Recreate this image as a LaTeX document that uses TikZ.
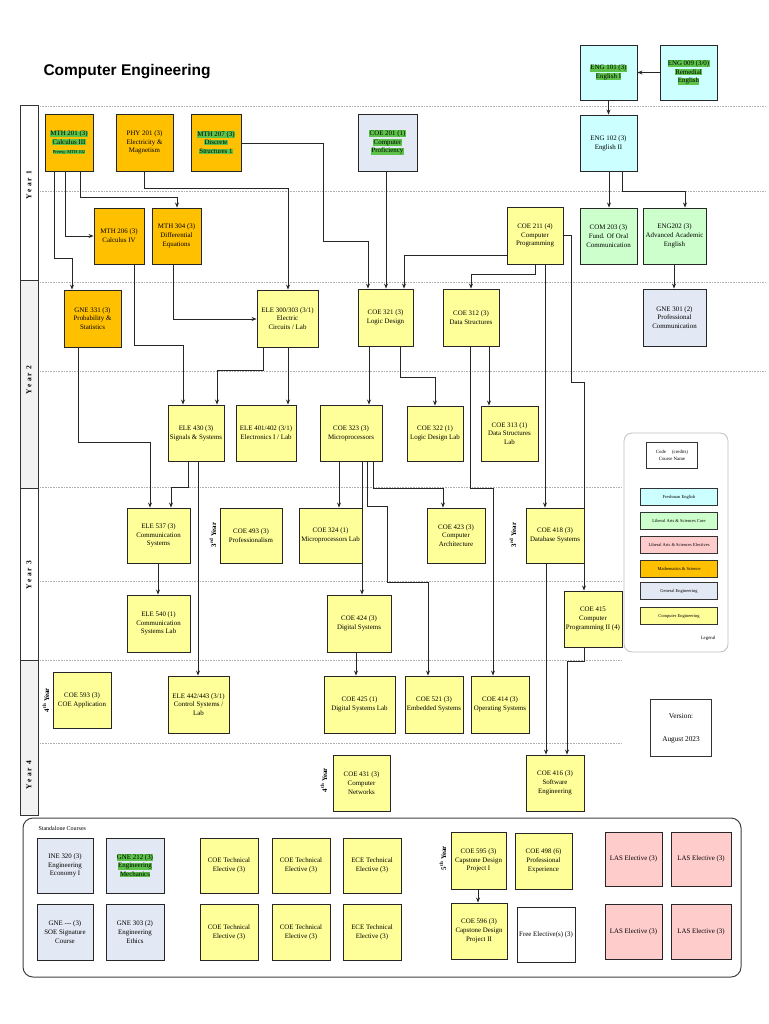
\documentclass[tikz,border=0pt]{standalone}
\usepackage{fontspec}
\setmainfont{Liberation Serif}
\newfontfamily\titlefont{Liberation Sans}
\usetikzlibrary{arrows.meta}
\definecolor{cor}{HTML}{FFC000}
\definecolor{cye}{HTML}{FFFF99}
\definecolor{ccy}{HTML}{CCFFFF}
\definecolor{cgr}{HTML}{CCFFCC}
\definecolor{cgb}{HTML}{E3E9F4}
\definecolor{cpk}{HTML}{FFCCCC}
\definecolor{hlg}{HTML}{5CC24A}
\newcommand\hl[1]{{\setlength{\fboxsep}{0.3pt}\colorbox{hlg}{#1}}}
\tikzset{
 cbox/.style={draw=black!85,line width=0.9pt,inner sep=0.5pt,align=center,font=\fontsize{6.9}{8.8}\selectfont},
 arr/.style={-{Stealth[length=5pt,width=4pt]},line width=0.8pt,black!85},
 dotl/.style={densely dotted,black!30,line width=0.6pt},
 yrlab/.style={rotate=90,font=\fontsize{7.5}{9}\selectfont\bfseries},
 legb/.style={draw=black!80,line width=0.8pt,minimum width=77pt,minimum height=17pt,font=\fontsize{4.5}{5}\selectfont,inner sep=0pt}
}
\newcommand\cb[7]{\node[cbox,#6,minimum width={(#4-#2)*1pt},minimum height={(#5-#3)*1pt}] (#1) at ({(#2+#4)/2},{(#3+#5)/2}) {#7};}
\begin{document}
\begin{tikzpicture}[x=1pt,y=-1pt]
\useasboundingbox (0,0) rectangle (768,1024);
\node[anchor=west,font=\titlefont\bfseries\fontsize{15.5}{18}\selectfont] (title) at (40,72) {Computer Engineering};
% dotted lines
\foreach \yy in {106,191,282,371}{\draw[dotl] (40,\yy) -- (766,\yy);}
\foreach \yy in {487,581,660,743}{\draw[dotl] (40,\yy) -- (622,\yy);}
% year column
\draw[line width=0.9pt,black!80] (20,105) rectangle (38,280);
\draw[line width=0.9pt,black!80,fill=black!5] (20,280) rectangle (38,488);
\draw[line width=0.9pt,black!80] (20,488) rectangle (38,660);
\draw[line width=0.9pt,black!80,fill=black!5] (20,660) rectangle (38,815);
\node[yrlab] (y1) at (29,185) {Y e a r \ 1};
\node[yrlab] (y2) at (29,380) {Y e a r \ 2};
\node[yrlab] (y3) at (29,575) {Y e a r \ 3};
\node[yrlab] (y4) at (29,775) {Y e a r \ 4};
% year 1
\cb{eng101}{580}{45}{637}{100}{fill=ccy}{\hl{ENG 101  (3)}\\\hl{English I}}
\cb{eng009}{660}{45}{717}{100}{fill=ccy}{\hl{ENG 009  (3/0)}\\\hl{Remedial}\\\hl{English}}
\cb{mth201}{45}{114}{93}{171}{fill=cor}{\hl{MTH 201 (3)}\\\hl{Calculus III}\\{\fontsize{4.5}{6}\selectfont\hl{Prereq: MTH 102}}}
\cb{phy201}{116}{114}{173}{171}{fill=cor}{PHY 201 (3)\\Electricity \&\\Magnetism}
\cb{mth207}{191}{114}{241}{171}{fill=cor}{\hl{MTH 207  (3)}\\\hl{Discrete}\\\hl{Structures 1}}
\cb{coe201}{358}{114}{417}{171}{fill=cgb}{\hl{COE 201  (1)}\\\hl{Computer}\\\hl{Proficiency}}
\cb{eng102}{580}{115}{637}{171}{fill=ccy}{ENG 102  (3)\\English II}
\cb{mth206}{94}{208}{144}{264}{fill=cor}{MTH 206  (3)\\Calculus IV}
\cb{mth304}{152}{208}{201}{264}{fill=cor}{MTH 304  (3)\\Differential\\Equations}
\cb{coe211}{507}{207}{563}{264}{fill=cye}{COE 211 (4)\\Computer\\Programming}
\cb{com203}{580}{208}{637}{264}{fill=cgr}{COM 203  (3)\\Fund. Of Oral\\Communication}
\cb{eng202}{643}{208}{706}{264}{fill=cgr}{ENG202  (3)\\Advanced Academic\\English}
% year 2
\cb{gne331}{64}{290}{121}{347}{fill=cor}{GNE 331  (3)\\Probability \&\\Statistics}
\cb{ele300}{257}{290}{318}{347}{fill=cye}{ELE 300/303  (3/1)\\Electric\\Circuits / Lab}
\cb{coe321}{358}{289}{413}{346}{fill=cye}{COE 321 (3)\\Logic Design}
\cb{coe312}{443}{289}{499}{346}{fill=cye}{COE 312 (3)\\Data Structures}
\cb{gne301}{643}{289}{706}{346}{fill=cgb}{GNE 301  (2)\\Professional\\Communication}
\cb{ele430}{168}{405}{224}{461}{fill=cye}{ELE 430  (3)\\Signals \& Systems}
\cb{ele401}{236}{405}{296}{461}{fill=cye}{ELE 401/402 (3/1)\\Electronics I / Lab}
\cb{coe323}{320}{405}{382}{461}{fill=cye}{COE 323 (3)\\Microprocessors}
\cb{coe322}{407}{406}{463}{461}{fill=cye}{COE 322 (1)\\Logic Design Lab}
\cb{coe313}{481}{406}{538}{461}{fill=cye}{COE 313 (1)\\Data Structures\\Lab}
% year 3
\cb{ele537}{127}{508}{190}{563}{fill=cye}{ELE 537 (3)\\Communication\\Systems}
\cb{coe493}{220}{508}{282}{563}{fill=cye}{COE 493 (3)\\Professionalism}
\cb{coe324}{299}{508}{362}{563}{fill=cye}{COE 324 (1)\\Microprocessors Lab}
\cb{coe423}{427}{508}{485}{563}{fill=cye}{COE 423  (3)\\Computer\\Architecture}
\cb{coe418}{526}{508}{584}{563}{fill=cye}{COE 418  (3)\\Database Systems}
\cb{ele540}{127}{595}{190}{652}{fill=cye}{ELE 540 (1)\\Communication\\Systems Lab}
\cb{coe424}{327}{595}{391}{652}{fill=cye}{COE 424  (3)\\Digital Systems}
\cb{coe415}{564}{591}{622}{647}{fill=cye}{COE 415\\Computer\\Programming II (4)}
\node[yrlab,font=\fontsize{7}{8}\selectfont\bfseries] (l3a) at (213,535) {3\textsuperscript{rd} Year};
\node[yrlab,font=\fontsize{7}{8}\selectfont\bfseries] (l3b) at (513,535) {3\textsuperscript{rd} Year};
% year 4
\cb{coe593}{53}{672}{111}{728}{fill=cye}{COE 593  (3)\\COE Application}
\cb{ele442}{168}{676}{229}{733}{fill=cye}{ELE 442/443  (3/1)\\Control Systems /\\Lab}
\cb{coe425}{324}{676}{395}{733}{fill=cye}{COE 425  (1)\\Digital Systems Lab}
\cb{coe521}{405}{676}{463}{733}{fill=cye}{COE 521  (3)\\Embedded Systems}
\cb{coe414}{471}{676}{529}{733}{fill=cye}{COE 414  (3)\\Operating Systems}
\cb{coe431}{333}{755}{390}{811}{fill=cye}{COE 431  (3)\\Computer\\Networks}
\cb{coe416}{526}{755}{584}{811}{fill=cye}{COE 416  (3)\\Software\\Engineering}
\node[yrlab,font=\fontsize{7}{8}\selectfont\bfseries] (l4a) at (46,700) {4\textsuperscript{th} Year};
\node[yrlab,font=\fontsize{7}{8}\selectfont\bfseries] (l4b) at (324,780) {4\textsuperscript{th} Year};
\node[draw=black!80,line width=0.9pt,minimum width=61pt,minimum height=57pt,align=center,font=\fontsize{7.3}{9}\selectfont] (ver) at (681,728) {Version:\\[14pt]August 2023};
% legend
\draw[black!25,line width=0.8pt,rounded corners=8pt] (624,433) rectangle (728,652);
\node[draw=black!80,line width=0.8pt,minimum width=51pt,minimum height=26pt,align=center,font=\fontsize{4.8}{7}\selectfont,inner sep=0pt] (code) at (672,455) {Code \quad (credits)\\Course Name};
\node[legb,fill=ccy] (lg1) at (679,497) {Freshman English};
\node[legb,fill=cgr] (lg2) at (679,521) {Liberal Arts \& Sciences Core};
\node[legb,fill=cpk] (lg3) at (679,545) {Liberal Arts \& Sciences  Electives};
\node[legb,fill=cor] (lg4) at (679,569) {Mathematics \& Science};
\node[legb,fill=cgb] (lg5) at (679,591) {General Engineering};
\node[legb,fill=cye] (lg6) at (679,616) {Computer Engineering};
\node[font=\fontsize{4.8}{6}\selectfont] (lgl) at (708,638) {Legend};
% standalone
\draw[black!75,line width=1pt,rounded corners=10pt] (23,818) rectangle (741,977);
\node[anchor=west,font=\fontsize{6}{7}\selectfont] (sc) at (35,828) {Standalone Courses};
\cb{ine320}{37}{838}{93}{893}{fill=cgb}{INE 320  (3)\\Engineering\\Economy I}
\cb{gne212}{106}{838}{164}{893}{fill=cgb}{\hl{GNE 212 (3)}\\\hl{Engineering}\\\hl{Mechanics}}
\cb{te1}{200}{838}{258}{893}{fill=cye}{COE Technical\\Elective (3)}
\cb{te2}{272}{838}{330}{893}{fill=cye}{COE Technical\\Elective (3)}
\cb{te3}{343}{838}{401}{893}{fill=cye}{ECE Technical\\Elective (3)}
\cb{gnex}{37}{904}{93}{960}{fill=cgb}{GNE -\kern0pt-\kern0pt- (3)\\SOE Signature\\Course}
\cb{gne303}{106}{904}{164}{960}{fill=cgb}{GNE 303  (2)\\Engineering\\Ethics}
\cb{te4}{200}{904}{258}{960}{fill=cye}{COE Technical\\Elective (3)}
\cb{te5}{272}{904}{330}{960}{fill=cye}{COE Technical\\Elective (3)}
\cb{te6}{343}{904}{401}{960}{fill=cye}{ECE Technical\\Elective (3)}
\cb{coe595}{451}{832}{506}{889}{fill=cye}{COE 595  (3)\\Capstone Design\\Project I}
\cb{coe498}{515}{833}{572}{889}{fill=cye}{COE 498  (6)\\Professional\\Experience}
\cb{coe596}{451}{903}{507}{959}{fill=cye}{COE 596  (3)\\Capstone Design\\Project II}
\cb{free}{517}{907}{575}{962}{fill=white}{Free Elective(s) (3)}
\cb{las1}{605}{832}{662}{886}{fill=cpk}{LAS Elective (3)}
\cb{las2}{671}{832}{731}{886}{fill=cpk}{LAS Elective (3)}
\cb{las3}{605}{904}{662}{959}{fill=cpk}{LAS Elective (3)}
\cb{las4}{671}{904}{731}{959}{fill=cpk}{LAS Elective (3)}
\node[yrlab,font=\fontsize{7}{8}\selectfont\bfseries] (l5) at (443,858) {5\textsuperscript{th} Year};
% connectors
\draw[arr] (eng009.west) -- (eng101.east);
\draw[arr] (eng101.south) -- (eng102.north);
\draw[arr] (eng102.south -| 609,0) -- (com203.north -| 609,0);
\draw[arr] (eng102.south -| 622,0) |- (685,191) -- (eng202.north -| 685,0);
\draw[arr] (eng202.south -| 674,0) -- (gne301.north -| 674,0);
\draw[arr] (mth201.south -| 54,0) |- (72,258) -- (gne331.north -| 72,0);
\draw[arr] (mth201.south -| 65,0) |- (mth206.west |- 0,236);
\draw[arr] (mth201.south -| 80,0) |- (177,197) -- (mth304.north -| 177,0);
\draw[arr] (phy201.south -| 144,0) |- (288,188) -- (ele300.north -| 288,0);
\draw[arr] (mth207.east |- 0,143) -| (323,241) -| (coe321.north -| 368,0);
\draw[arr] (coe201.south -| 386,0) -- (coe321.north -| 386,0);
\draw[arr] (coe211.west |- 0,255) -| (coe321.north -| 404,0);
\draw[arr] (coe211.south -| 535,0) |- (471,274) -- (coe312.north -| 471,0);
\draw[arr] (coe211.east |- 0,235) -| (571,382) -| (coe415.north -| 584,0);
\draw[arr] (coe211.south -| 545,0) -- (coe418.north -| 545,0);
\draw[arr] (mth206.south -| 134,0) |- (183,345) -- (ele430.north -| 183,0);
\draw[arr] (mth304.south -| 173,0) |- (ele300.west |- 0,319);
\draw[arr] (ele300.south -| 263,0) |- (217,370) -- (ele430.north -| 217,0);
\draw[arr] (ele300.south -| 288,0) -- (ele401.north -| 288,0);
\draw[arr] (gne331.south -| 78,0) |- (150,442) -- (ele537.north -| 150,0);
\draw[arr] (ele430.south -| 188,0) |- (171,487) -- (ele537.north -| 171,0);
\draw[arr] (ele430.south -| 198,0) -- (ele442.north -| 198,0);
\draw[arr] (coe321.south -| 369,0) -- (coe323.north -| 369,0);
\draw[arr] (coe321.south -| 400,0) |- (435,377) -- (coe322.north -| 435,0);
\draw[arr] (coe312.south -| 489,0) -- (coe313.north -| 489,0);
\draw[arr] (coe312.south -| 470,0) |- (493,488) -- (coe414.north -| 493,0);
\draw[arr] (coe323.south -| 339,0) -- (coe324.north -| 339,0);
\draw[arr] (coe323.south -| 362,0) -- (coe424.north -| 362,0);
\draw[arr] (coe323.south -| 367,0) |- (387,506) |- (428,582) -- (coe521.north -| 428,0);
\draw[arr] (coe323.south -| 373,0) |- (443,488) -- (coe423.north -| 443,0);
\draw[arr] (coe424.south -| 356,0) -- (coe425.north -| 356,0);
\draw[arr] (ele537.south -| 158,0) -- (ele540.north -| 158,0);
\draw[arr] (coe418.south -| 546,0) -- (coe416.north -| 546,0);
\draw[arr] (coe415.south -| 584,0) |- (567,661) -- (coe416.north -| 567,0);
\draw[arr] (coe595.south -| 478,0) -- (coe596.north -| 478,0);
\end{tikzpicture}
\end{document}
